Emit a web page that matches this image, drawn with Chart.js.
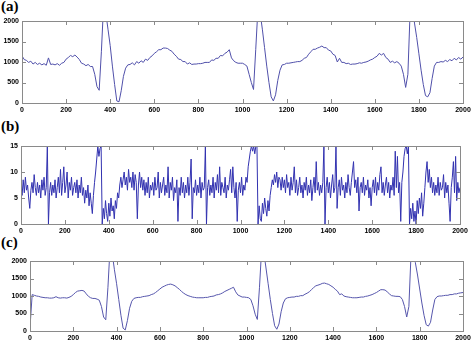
<!DOCTYPE html>
<html>
<head>
<meta charset="utf-8">
<script src="https://cdn.jsdelivr.net/npm/chart.js@4.4.1/dist/chart.umd.min.js"></script>
<style>
  body { margin: 0; background: #fff; }
  #wrap { position: relative; width: 474px; height: 353px; overflow: hidden; }
  canvas { position: absolute; left: 0; }
  .lab { position: absolute; left: 1px; font: bold 15px "Liberation Serif", "DejaVu Serif", serif; color: #000; }
</style>
</head>
<body>
<div id="wrap">
  <div class="lab" style="top:-2px">(a)</div>
  <div class="lab" style="top:118px">(b)</div>
  <div class="lab" style="top:234px">(c)</div>
  <canvas id="ca" width="474" height="104" style="top:13px"></canvas>
  <canvas id="cb" width="474" height="100" style="top:138px"></canvas>
  <canvas id="cc" width="474" height="92" style="top:253px"></canvas>
</div>
<script>
// x tick labels shared by all panels
const xTicks = [0, 200, 400, 600, 800, 1000, 1200, 1400, 1600, 1800, 2000];
const ecgTicks = [0, 500, 1000, 1500, 2000];
const bTicks = [0, 5, 10, 15];

// (a) original signal, one value every 10 samples
const stepA = 10;
const signalA = [
  1150, 1060, 1040, 990, 1020, 950, 990, 940, 970, 930,
  960, 920, 1100, 940, 950, 930, 960, 920, 970, 990,
  1070, 1110, 1160, 1130, 1170, 1120, 1060, 970, 950, 910,
  940, 890, 890, 700, 400, 310, 1250, 2400, 2200, 1800,
  1400, 900, 450, 50, 30, 300, 650, 850, 930, 940,
  980, 930, 1010, 970, 1030, 990, 1070, 1040, 1110, 1150,
  1210, 1250, 1300, 1300, 1340, 1340, 1330, 1290, 1260, 1190,
  1140, 1070, 1060, 1010, 1010, 950, 980, 940, 950, 950,
  960, 960, 970, 990, 990, 990, 1050, 1040, 1090, 1090,
  1160, 1150, 1210, 1240, 1300, 1100, 1030, 990, 970, 970,
  970, 940, 900, 700, 500, 330, 1300, 2300, 2200, 1800,
  1350, 900, 500, 150, 50, 200, 550, 800, 930, 940,
  970, 970, 980, 990, 1000, 1010, 1010, 1040, 1090, 1110,
  1190, 1250, 1310, 1310, 1340, 1360, 1390, 1350, 1350, 1290,
  1270, 1190, 1160, 1000, 1090, 990, 990, 960, 970, 940,
  950, 950, 960, 980, 970, 990, 1000, 1020, 1050, 1070,
  1110, 1140, 1210, 1170, 1210, 1110, 1070, 990, 1020, 980,
  1010, 970, 900, 700, 380, 700, 2200, 2400, 1950, 1600,
  1200, 800, 450, 180, 150, 250, 600, 900, 990, 990,
  1010, 1000, 1040, 1010, 1060, 1030, 1090, 1050, 1110, 1070,
  1120
];

// (b) noisy signal, one value every 5 samples
const stepB = 5;
const signalB = [
  7, 5.5, 8.5, 6, 9, 6.5, 7.5, 5, 3, 6.5,
  8, 6, 9.5, 7, 5.5, 8, 6, 7.5, 5, 8.5,
  6.5, 9, 5.5, 7, 15, 0, 6, 8, 5.5, 7.5,
  6, 8.5, 5, 7, 9, 6, 10.5, 5.5, 8, 11,
  6, 7.5, 10, 5, 8, 6.5, 9, 5.5, 7, 8,
  6, 8.5, 5, 7.5, 6, 9, 5.5, 7, 4, 6.5,
  5, 7.5, 3.5, 6, 4, 2, 5.5, 8, 10, 12.5,
  15, 13, 14.5, 15, 0, 3, 1, 4.5, 2, 0.5,
  4, 1.5, 5, 2.5, 3.5, 1, 4.5, 3, 6, 5,
  7.5, 9, 7, 8.5, 10, 7.5, 9, 6.5, 10.5, 8,
  9, 7, 10, 6.5, 9.5, 8, 1, 7.5, 10, 7,
  9, 6.5, 8.5, 5.5, 8, 6, 9, 5, 7.5, 6.5,
  8, 5.5, 9, 6.5, 7, 10, 5, 8, 6, 7.5,
  9, 5.5, 7.5, 6, 11, 5, 8, 6.5, 9, 4.5,
  7, 6, 8.5, 0.5, 7, 5.5, 9, 6, 8, 5,
  7.5, 6, 9, 5.5, 8, 12.5, 1, 7, 6, 8.5,
  5.5, 7.5, 6, 9, 5, 8, 6.5, 7, 15, 0,
  7, 8.5, 5.5, 7.5, 6, 9, 5, 8, 6.5, 9.5,
  6, 11, 5.5, 8, 7, 6, 9, 5, 7.5, 6.5,
  8.5, 10.5, 6, 11, 7, 5, 8, 0.5, 6.5, 8,
  6, 9, 5.5, 7.5, 6.5, 9, 8, 11, 12.5, 14,
  15, 14, 15, 13.5, 15, 15, 0, 3.5, 1, 0.5,
  4, 2, 5, 3, 1.5, 4.5, 2.5, 5.5, 7, 8.5,
  7.5, 9.5, 8, 10, 7, 9, 8.5, 6.5, 9, 7,
  8.5, 6, 9.5, 7, 8, 5.5, 9, 6.5, 8, 11,
  6, 8.5, 5.5, 7, 9, 6, 7.5, 5, 8, 6.5,
  9, 5.5, 7.5, 6, 8.5, 4.5, 7, 9, 6, 12,
  6.5, 8, 5.5, 7.5, 6, 8, 15, 0, 7, 9,
  6, 8, 5, 7.5, 9.5, 6, 7, 15, 3, 7,
  8.5, 5.5, 9, 6.5, 7.5, 5, 8, 6, 9.5, 7,
  5.5, 8, 10, 12, 7, 8.5, 6, 9, 2.5, 7,
  8, 6, 9, 5.5, 7.5, 6.5, 8.5, 5, 7, 3.5,
  7, 8.5, 6, 9, 5.5, 8, 6.5, 9.5, 11, 6,
  8, 5.5, 7.5, 9, 6, 8, 5, 7.5, 6.5, 9,
  5.5, 14, 7, 13, 6, 8, 0.5, 8, 10, 13,
  14.5, 15, 13.5, 15, 0, 3, 1, 4, 0.5, 2.5,
  0, 4.5, 2, 5, 3, 6, 1.5, 4, 7, 10,
  12, 8, 10.5, 7, 9, 6, 8, 5.5, 7.5, 6,
  9, 5.5, 8, 6.5, 7, 9.5, 5, 8, 6, 7.5,
  4, 0.5, 7, 9, 12, 6, 13, 4.5, 8, 6,
  7
];

// (c) reconstructed signal, one value every 10 samples
const stepC = 10;
const signalC = [
  100, 1040, 1020, 1000, 990, 970, 960, 950, 950, 940,
  940, 950, 980, 950, 940, 950, 950, 940, 960, 990,
  1040, 1100, 1140, 1150, 1160, 1140, 1060, 990, 950, 930,
  930, 910, 880, 700, 400, 320, 1250, 2400, 2200, 1750,
  1350, 900, 450, 80, 30, 300, 650, 850, 930, 950,
  960, 960, 980, 990, 1000, 1010, 1040, 1060, 1100, 1150,
  1200, 1250, 1280, 1310, 1330, 1340, 1320, 1290, 1240, 1190,
  1130, 1080, 1040, 1010, 990, 970, 960, 950, 950, 950,
  950, 960, 960, 980, 990, 1000, 1030, 1040, 1060, 1090,
  1130, 1160, 1190, 1220, 1250, 1120, 1030, 1000, 970, 970,
  960, 950, 900, 720, 480, 330, 1250, 2350, 2250, 1800,
  1350, 900, 500, 150, 50, 200, 550, 800, 920, 950,
  960, 970, 970, 990, 990, 1010, 1010, 1050, 1080, 1120,
  1180, 1240, 1290, 1310, 1330, 1360, 1370, 1350, 1330, 1290,
  1250, 1190, 1140, 1040, 1060, 1000, 980, 970, 960, 950,
  950, 950, 960, 970, 970, 990, 1000, 1020, 1040, 1070,
  1100, 1140, 1180, 1180, 1170, 1120, 1060, 1010, 1000, 990,
  990, 980, 900, 700, 400, 700, 2200, 2400, 1950, 1600,
  1200, 800, 450, 180, 140, 250, 600, 900, 980, 1000,
  1000, 1010, 1020, 1020, 1040, 1040, 1060, 1060, 1080, 1090,
  1100
];

function toPoints(values, step) {
  return values.map((v, i) => ({ x: i * step, y: v }));
}

// matlab style box with inward ticks on all four sides
const boxPlugin = {
  id: 'box',
  afterDraw(chart) {
    const { ctx, chartArea: a, scales } = chart;
    ctx.save();
    ctx.strokeStyle = '#8a8a8a';
    ctx.lineWidth = 1;
    ctx.strokeRect(Math.round(a.left) + 0.5, Math.round(a.top) + 0.5,
      Math.round(a.right - a.left), Math.round(a.bottom - a.top));
    ctx.beginPath();
    scales.x.ticks.forEach(t => {
      const px = Math.round(scales.x.getPixelForValue(t.value)) + 0.5;
      ctx.moveTo(px, a.bottom); ctx.lineTo(px, a.bottom - 4);
      ctx.moveTo(px, a.top); ctx.lineTo(px, a.top + 4);
    });
    scales.y.ticks.forEach(t => {
      const py = Math.round(scales.y.getPixelForValue(t.value)) + 0.5;
      ctx.moveTo(a.left, py); ctx.lineTo(a.left + 4, py);
      ctx.moveTo(a.right, py); ctx.lineTo(a.right - 4, py);
    });
    ctx.stroke();
    ctx.restore();
  }
};

const tickFont = { family: 'Arial, "Liberation Sans", sans-serif', size: 7, weight: 'bold' };

function makePanel(id, points, color, yMax, yTicks, leftW, rightPad) {
  new Chart(document.getElementById(id), {
    type: 'line',
    data: { datasets: [{ data: points, borderColor: color, borderWidth: 1, pointRadius: 0, tension: 0 }] },
    plugins: [boxPlugin],
    options: {
      responsive: false,
      animation: false,
      events: [],
      layout: { padding: { top: 8, right: rightPad, left: 0, bottom: 0 } },
      plugins: { legend: { display: false }, tooltip: { enabled: false } },
      scales: {
        x: {
          type: 'linear', min: 0, max: 2000,
          grid: { display: false, drawTicks: false },
          border: { display: false },
          afterBuildTicks: s => { s.ticks = xTicks.map(v => ({ value: v })); },
          afterFit: s => { s.height = 14; },
          ticks: { font: tickFont, color: '#000', padding: 3, maxRotation: 0, autoSkip: false,
                   callback: v => String(v) }
        },
        y: {
          min: 0, max: yMax,
          grid: { display: false, drawTicks: false },
          border: { display: false },
          afterBuildTicks: s => { s.ticks = yTicks.map(v => ({ value: v })); },
          afterFit: s => { s.width = leftW; },
          ticks: { font: tickFont, color: '#000', padding: 3, callback: v => String(v) }
        }
      }
    }
  });
}

makePanel('ca', toPoints(signalA, stepA), '#5050aa', 2000, ecgTicks, 22, 11);
makePanel('cb', toPoints(signalB, stepB), '#3232b0', 15, bTicks, 21, 14);
makePanel('cc', toPoints(signalC, stepC), '#5656ac', 2000, ecgTicks, 30, 11);
</script>
</body>
</html>
